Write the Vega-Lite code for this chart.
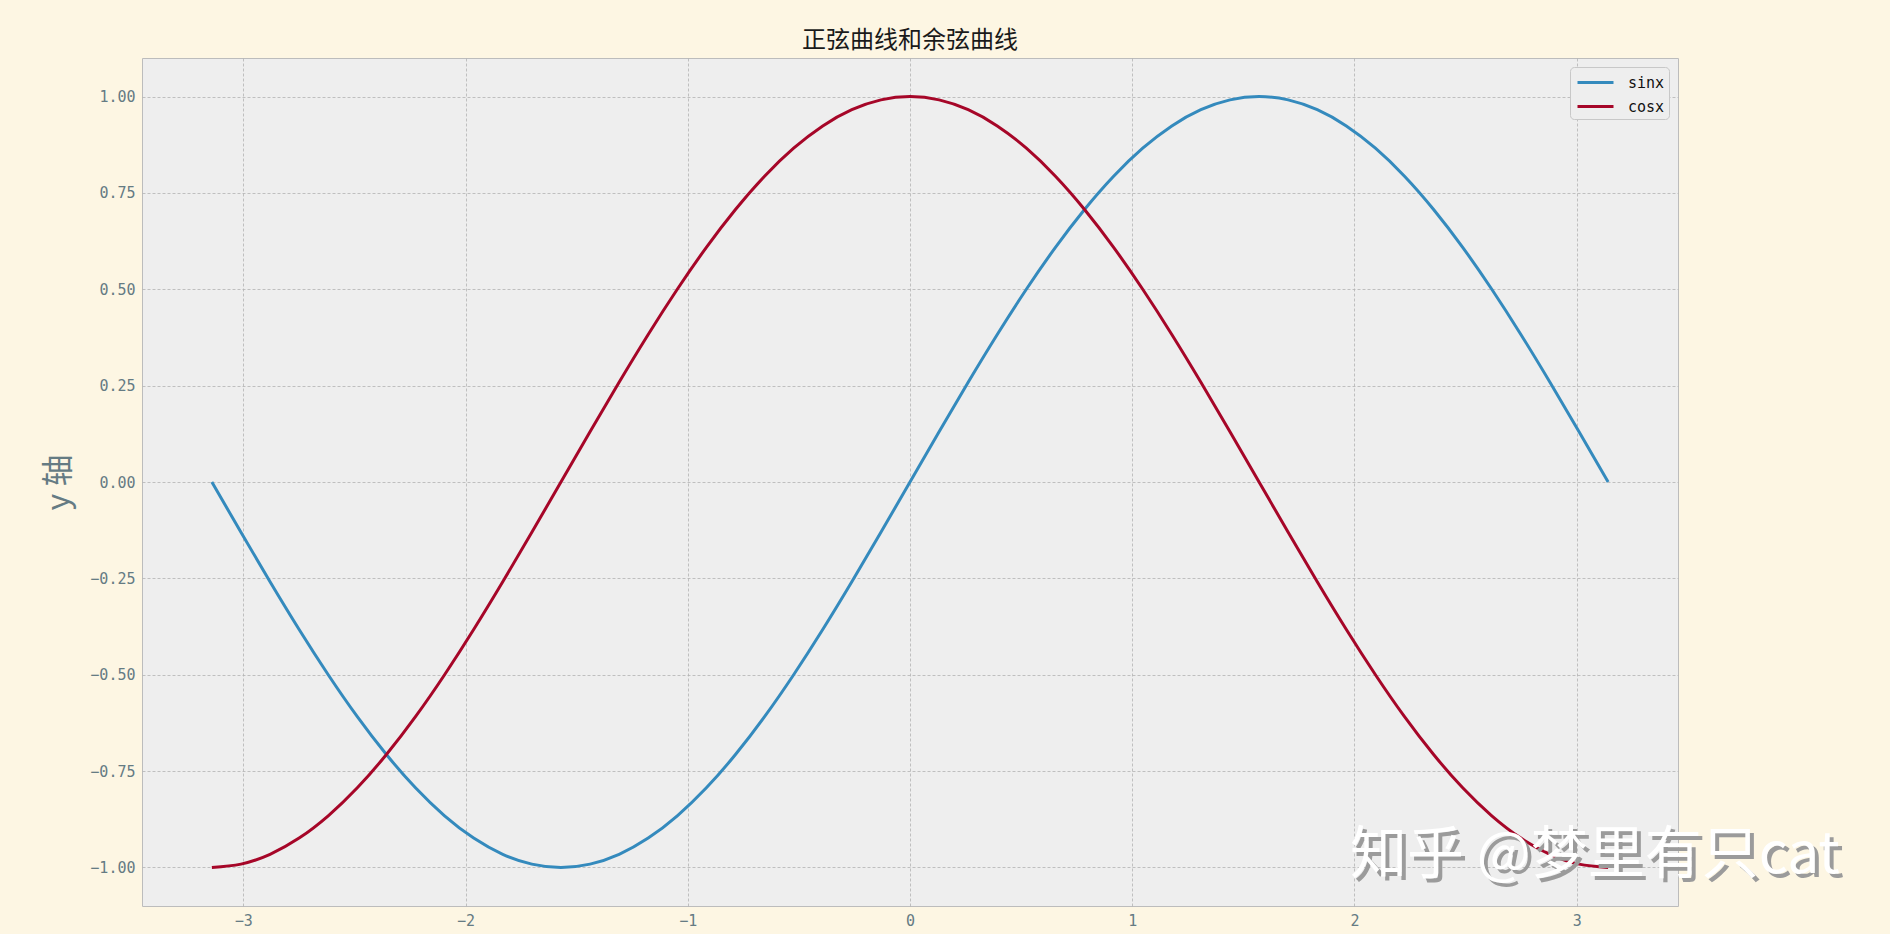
{
  "$schema": "https://vega.github.io/schema/vega-lite/v6.json",
  "description": "正弦曲线和余弦曲线",
  "width": 1536,
  "height": 848,
  "autosize": {"type": "none"},
  "padding": {"left": 142, "top": 58, "right": 212, "bottom": 28},
  "background": "#fdf6e3",
  "title": {
    "text": "正弦曲线和余弦曲线",
    "font": "Noto Sans CJK SC",
    "fontSize": 24,
    "fontWeight": "normal",
    "color": "#1a1a1a",
    "offset": 5
  },
  "config": {
    "view": {"fill": "#eeeeee", "stroke": "#bcbcbc", "strokeWidth": 1},
    "axis": {
      "domain": false,
      "ticks": false,
      "gridColor": "#b2b2b2",
      "gridDash": [3, 2],
      "gridWidth": 0.8,
      "labelFont": "DejaVu Sans Mono",
      "labelFontSize": 15,
      "labelColor": "#657b83",
      "labelPadding": 7,
      "titleFont": "Noto Sans CJK SC",
      "titleFontSize": 32,
      "titleFontWeight": "normal",
      "titleColor": "#657b83"
    },
    "legend": {
      "orient": "top-right",
      "offset": 9,
      "fillColor": "#eeeeee",
      "strokeColor": "#c8c8c8",
      "cornerRadius": 4,
      "padding": 4,
      "rowPadding": 4,
      "symbolType": "M-1.8,0H1.8",
      "symbolSize": 400,
      "symbolOffset": 10,
      "symbolStrokeWidth": 3,
      "labelFont": "DejaVu Sans Mono",
      "labelFontSize": 15,
      "labelColor": "#111111",
      "labelOffset": 21
    }
  },
  "data": {
    "values": [
      {"x": -3.1416, "sinx": 0, "cosx": -1},
      {"x": -3.0107, "sinx": -0.1305, "cosx": -0.9914},
      {"x": -2.8798, "sinx": -0.2588, "cosx": -0.9659},
      {"x": -2.7489, "sinx": -0.3827, "cosx": -0.9239},
      {"x": -2.618, "sinx": -0.5, "cosx": -0.866},
      {"x": -2.4871, "sinx": -0.6088, "cosx": -0.7934},
      {"x": -2.3562, "sinx": -0.7071, "cosx": -0.7071},
      {"x": -2.2253, "sinx": -0.7934, "cosx": -0.6088},
      {"x": -2.0944, "sinx": -0.866, "cosx": -0.5},
      {"x": -1.9635, "sinx": -0.9239, "cosx": -0.3827},
      {"x": -1.8326, "sinx": -0.9659, "cosx": -0.2588},
      {"x": -1.7017, "sinx": -0.9914, "cosx": -0.1305},
      {"x": -1.5708, "sinx": -1, "cosx": 0},
      {"x": -1.4399, "sinx": -0.9914, "cosx": 0.1305},
      {"x": -1.309, "sinx": -0.9659, "cosx": 0.2588},
      {"x": -1.1781, "sinx": -0.9239, "cosx": 0.3827},
      {"x": -1.0472, "sinx": -0.866, "cosx": 0.5},
      {"x": -0.9163, "sinx": -0.7934, "cosx": 0.6088},
      {"x": -0.7854, "sinx": -0.7071, "cosx": 0.7071},
      {"x": -0.6545, "sinx": -0.6088, "cosx": 0.7934},
      {"x": -0.5236, "sinx": -0.5, "cosx": 0.866},
      {"x": -0.3927, "sinx": -0.3827, "cosx": 0.9239},
      {"x": -0.2618, "sinx": -0.2588, "cosx": 0.9659},
      {"x": -0.1309, "sinx": -0.1305, "cosx": 0.9914},
      {"x": 0, "sinx": 0, "cosx": 1},
      {"x": 0.1309, "sinx": 0.1305, "cosx": 0.9914},
      {"x": 0.2618, "sinx": 0.2588, "cosx": 0.9659},
      {"x": 0.3927, "sinx": 0.3827, "cosx": 0.9239},
      {"x": 0.5236, "sinx": 0.5, "cosx": 0.866},
      {"x": 0.6545, "sinx": 0.6088, "cosx": 0.7934},
      {"x": 0.7854, "sinx": 0.7071, "cosx": 0.7071},
      {"x": 0.9163, "sinx": 0.7934, "cosx": 0.6088},
      {"x": 1.0472, "sinx": 0.866, "cosx": 0.5},
      {"x": 1.1781, "sinx": 0.9239, "cosx": 0.3827},
      {"x": 1.309, "sinx": 0.9659, "cosx": 0.2588},
      {"x": 1.4399, "sinx": 0.9914, "cosx": 0.1305},
      {"x": 1.5708, "sinx": 1, "cosx": 0},
      {"x": 1.7017, "sinx": 0.9914, "cosx": -0.1305},
      {"x": 1.8326, "sinx": 0.9659, "cosx": -0.2588},
      {"x": 1.9635, "sinx": 0.9239, "cosx": -0.3827},
      {"x": 2.0944, "sinx": 0.866, "cosx": -0.5},
      {"x": 2.2253, "sinx": 0.7934, "cosx": -0.6088},
      {"x": 2.3562, "sinx": 0.7071, "cosx": -0.7071},
      {"x": 2.4871, "sinx": 0.6088, "cosx": -0.7934},
      {"x": 2.618, "sinx": 0.5, "cosx": -0.866},
      {"x": 2.7489, "sinx": 0.3827, "cosx": -0.9239},
      {"x": 2.8798, "sinx": 0.2588, "cosx": -0.9659},
      {"x": 3.0107, "sinx": 0.1305, "cosx": -0.9914},
      {"x": 3.1416, "sinx": 0, "cosx": -1}
    ]
  },
  "layer": [
    {
      "transform": [{"fold": ["sinx", "cosx"], "as": ["series", "y"]}],
      "mark": {"type": "line", "strokeWidth": 3, "interpolate": "natural"},
      "encoding": {
        "x": {
          "field": "x",
          "type": "quantitative",
          "scale": {"domain": [-3.456, 3.456], "nice": false, "zero": false},
          "axis": {"values": [-3, -2, -1, 0, 1, 2, 3], "format": "d", "title": null}
        },
        "y": {
          "field": "y",
          "type": "quantitative",
          "scale": {"domain": [-1.1, 1.1], "nice": false, "zero": false},
          "axis": {
            "values": [-1, -0.75, -0.5, -0.25, 0, 0.25, 0.5, 0.75, 1],
            "format": ".2f",
            "title": "y 轴",
            "titlePadding": 14
          }
        },
        "color": {
          "field": "series",
          "type": "nominal",
          "sort": ["sinx", "cosx"],
          "scale": {"domain": ["sinx", "cosx"], "range": ["#348ABD", "#A60628"]},
          "legend": {"title": null}
        }
      }
    },
    {
      "data": {"values": [{"label": "知乎 @梦里有只cat"}]},
      "mark": {
        "type": "text",
        "font": "Noto Sans CJK SC",
        "fontSize": 57,
        "align": "left",
        "baseline": "middle",
        "color": "#9b9b9b",
        "dx": 4,
        "dy": 4
      },
      "encoding": {
        "x": {"datum": 1.98, "type": "quantitative"},
        "y": {"datum": -0.97, "type": "quantitative"},
        "text": {"field": "label"}
      }
    },
    {
      "data": {"values": [{"label": "知乎 @梦里有只cat"}]},
      "mark": {
        "type": "text",
        "font": "Noto Sans CJK SC",
        "fontSize": 57,
        "align": "left",
        "baseline": "middle",
        "color": "#ffffff"
      },
      "encoding": {
        "x": {"datum": 1.98, "type": "quantitative"},
        "y": {"datum": -0.97, "type": "quantitative"},
        "text": {"field": "label"}
      }
    }
  ]
}
